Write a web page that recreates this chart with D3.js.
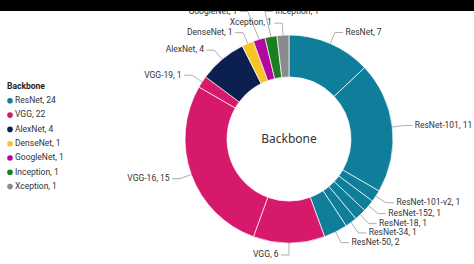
<!DOCTYPE html>
<html>
<head>
<meta charset="utf-8">
<script src="https://cdn.jsdelivr.net/npm/d3@7"></script>
<style>
  body { margin: 0; background: #fff; }
  svg { display: block; }
</style>
</head>
<body>
<div id="chart"></div>
<script>
const width = 474;
const height = 264;

// slices, clockwise from 12 o'clock
const models = ['ResNet', 'ResNet-101', 'ResNet-101-v2', 'ResNet-152', 'ResNet-18', 'ResNet-34', 'ResNet-50',
  'VGG', 'VGG-16', 'VGG-19', 'AlexNet', 'DenseNet', 'GoogleNet', 'Inception', 'Xception'];
const modelCounts = [7, 11, 1, 1, 1, 1, 2, 6, 15, 1, 4, 1, 1, 1, 1];
const modelBackbone = ['ResNet', 'ResNet', 'ResNet', 'ResNet', 'ResNet', 'ResNet', 'ResNet',
  'VGG', 'VGG', 'VGG', 'AlexNet', 'DenseNet', 'GoogleNet', 'Inception', 'Xception'];

// legend
const backbones = ['ResNet', 'VGG', 'AlexNet', 'DenseNet', 'GoogleNet', 'Inception', 'Xception'];
const backboneCounts = [24, 22, 4, 1, 1, 1, 1];
const backboneColors = ['#0f7e9b', '#d6196b', '#0b2050', '#f7c325', '#b3089f', '#1b7e22', '#8a8a8a'];

// a few labels at the top are stacked by hand, like the original tool does
const labelNudge = {
  GoogleNet: {y: 11.5, dx: -8},
  Inception: {y: 11.5, dx: -4, side: 'right'}
};

const color = d3.scaleOrdinal().domain(backbones).range(backboneColors);

const cx = 289, cy = 139;
const outerR = 104, innerR = 62, elbowR = 116;

const svg = d3.select('#chart').append('svg')
  .attr('width', width)
  .attr('height', height)
  .style('font-family', 'Roboto, "Liberation Sans", sans-serif');

const slices = models.map((m, i) => ({name: m, value: modelCounts[i], group: modelBackbone[i]}));

const pie = d3.pie().sort(null).value(d => d.value);
const arcs = pie(slices);
const arc = d3.arc().innerRadius(innerR).outerRadius(outerR);

const g = svg.append('g').attr('transform', `translate(${cx},${cy})`);

g.selectAll('path.slice')
  .data(arcs)
  .join('path')
  .attr('class', 'slice')
  .attr('d', arc)
  .attr('fill', d => color(d.data.group))
  .attr('stroke', '#fff')
  .attr('stroke-width', 0.7);

g.append('text')
  .attr('x', 0)
  .attr('y', 1)
  .attr('text-anchor', 'middle')
  .attr('dominant-baseline', 'middle')
  .style('font-family', '"Noto Sans", "Open Sans", sans-serif')
  .style('font-size', '12px')
  .attr('fill', '#333')
  .text('Backbone');

// label layout
const labels = arcs.map(d => {
  const a = (d.startAngle + d.endAngle) / 2;
  const nudge = labelNudge[d.data.name] || {};
  const side = nudge.side || (a < Math.PI - 1e-6 ? 'right' : 'left');
  const p0 = [outerR * Math.sin(a), -outerR * Math.cos(a)];
  let ex = elbowR * Math.sin(a) + (nudge.dx || 0);
  let ey = elbowR * Math.cos(a) * -1;
  if (nudge.y !== undefined) ey = nudge.y - cy;
  return {d, a, side, p0, ex, ey};
});

// keep labels apart on each side
['right', 'left'].forEach(side => {
  const ls = labels.filter(l => l.side === side && !labelNudge[l.d.data.name]).sort((a, b) => a.ey - b.ey);
  for (let i = 1; i < ls.length; i++) {
    if (ls[i].ey - ls[i - 1].ey < 9.5) ls[i].ey = ls[i - 1].ey + 9.5;
  }
});

const leg = 8, gap = 2.5;

const lab = g.append('g').attr('class', 'labels');

lab.selectAll('polyline')
  .data(labels)
  .join('polyline')
  .attr('points', l => {
    const hx = l.side === 'right' ? l.ex + leg : l.ex - leg;
    return [l.p0, [l.ex, l.ey], [hx, l.ey]].map(p => p.join(',')).join(' ');
  })
  .attr('fill', 'none')
  .attr('stroke', '#9a9a9a')
  .attr('stroke-width', 0.8);

lab.selectAll('text')
  .data(labels)
  .join('text')
  .attr('x', l => l.side === 'right' ? l.ex + leg + gap : l.ex - leg - gap)
  .attr('y', l => l.ey)
  .attr('dominant-baseline', 'middle')
  .attr('text-anchor', l => l.side === 'right' ? 'start' : 'end')
  .style('font-size', '8.5px')
  .attr('fill', '#333')
  .text(l => `${l.d.data.name}, ${l.d.data.value}`);

// legend
const legend = svg.append('g').attr('transform', 'translate(7,87)');

legend.append('text')
  .attr('x', 0)
  .attr('y', 0)
  .attr('dominant-baseline', 'middle')
  .style('font-size', '8.5px')
  .style('font-weight', 'bold')
  .attr('fill', '#222')
  .text('Backbone');

const item = legend.selectAll('g.item')
  .data(backbones)
  .join('g')
  .attr('class', 'item')
  .attr('transform', (d, i) => `translate(0,${13.8 + i * 14.3})`);

item.append('circle')
  .attr('cx', 3)
  .attr('cy', 0)
  .attr('r', 2.8)
  .attr('fill', d => color(d));

item.append('text')
  .attr('x', 8)
  .attr('y', 0)
  .attr('dominant-baseline', 'middle')
  .style('font-size', '8.5px')
  .attr('fill', '#333')
  .text((d, i) => `${d}, ${backboneCounts[i]}`);

// dark strip across the top edge
svg.append('rect')
  .attr('x', 0)
  .attr('y', 0)
  .attr('width', width)
  .attr('height', 11)
  .attr('fill', '#000');
</script>
</body>
</html>
